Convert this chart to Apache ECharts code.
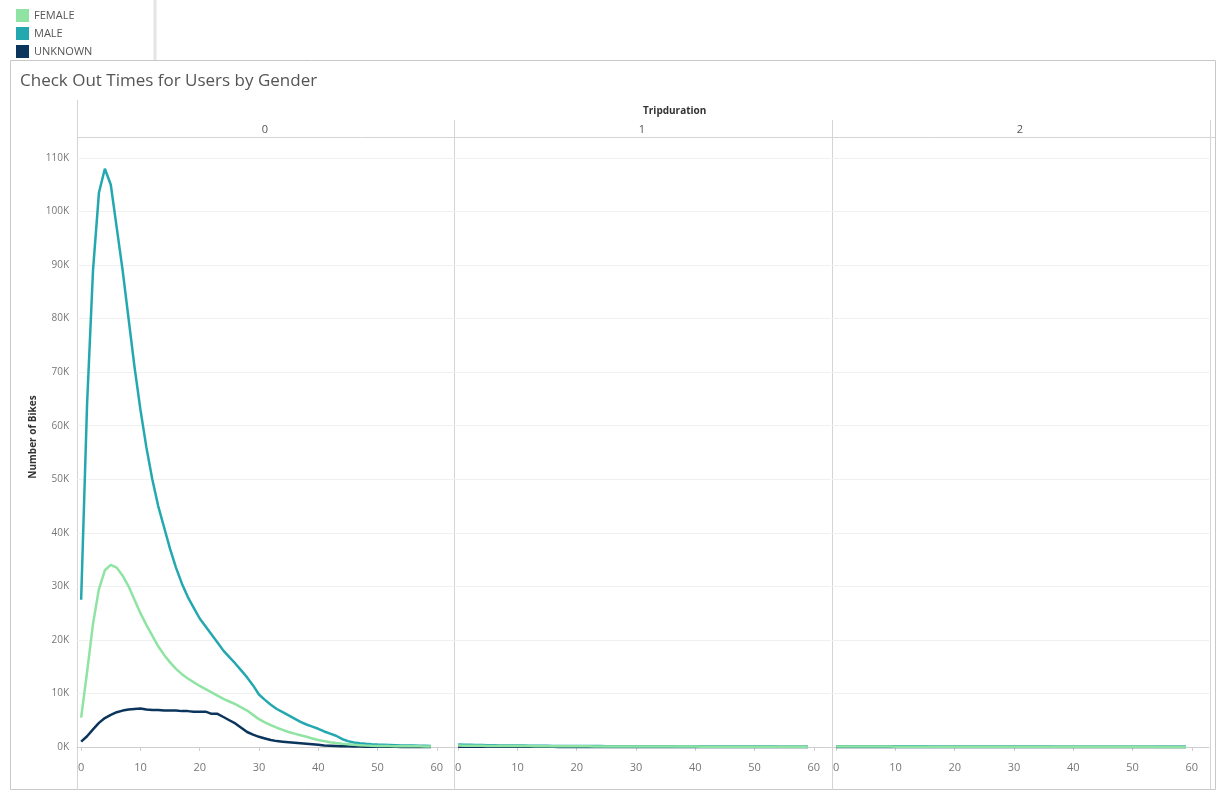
<!DOCTYPE html>
<html lang="en">
<head>
<meta charset="UTF-8">
<title>Check Out Times for Users by Gender</title>
<script src="https://cdn.jsdelivr.net/npm/echarts@6/dist/echarts.min.js"></script>
<style>html,body{margin:0;padding:0;background:#fff;}</style>
</head>
<body>
<div id="main" style="width:1221px;height:796px;"></div>
<script type="text/javascript">
var panels = ['0', '1', '2'];
var xTicks = [0, 10, 20, 30, 40, 50, 60];
var minutes = [];
for (var m = 0; m < 60; m++) minutes.push(m);

// panel 0 (values per minute)
var male0 = [27500,64000,89000,103500,108000,105000,97000,89000,80000,71000,
  63000,56000,50000,45000,41000,37000,33500,30500,28000,26000,
  24000,22500,21000,19500,18000,16800,15600,14300,13000,11500,
  9800,8800,7900,7100,6500,5900,5300,4700,4200,3800,
  3400,2900,2500,2100,1500,1100,850,700,600,520,
  460,420,380,340,300,280,260,240,220,200];
var female0 = [5500,14000,23000,29500,33000,34000,33500,32000,30000,27500,
  25000,22800,20800,18800,17200,15800,14600,13600,12800,12100,
  11400,10800,10200,9600,9000,8500,8000,7400,6800,6000,
  5200,4600,4100,3600,3200,2800,2500,2200,1900,1600,
  1300,1100,900,750,600,500,400,330,280,240,
  210,190,170,160,150,140,130,120,110,100];
var unknown0 = [1000,2000,3300,4500,5400,6000,6500,6800,7000,7100,
  7200,7000,6900,6900,6800,6800,6800,6700,6700,6600,
  6600,6600,6200,6200,5600,5000,4400,3600,2800,2300,
  1900,1600,1300,1100,1000,900,800,700,600,500,
  400,300,250,200,150,120,100,80,60,50,
  40,35,30,25,20,20,15,15,10,10];
// panel 1
var male1 = [450,420,400,380,360,340,320,300,290,280,270,260,250,240,230,220,210,200,195,190,
  185,180,175,170,165,160,155,150,145,140,135,130,128,125,122,120,118,115,112,110,
  108,105,102,100,98,95,92,90,88,85,82,80,78,75,72,70,68,65,62,60];
var female1 = [260,250,240,230,220,210,200,190,185,180,175,170,165,160,155,150,145,140,135,130,
  125,120,118,115,112,110,108,105,102,100,98,95,92,90,88,85,82,80,78,75,
  72,70,68,65,62,60,58,56,54,52,50,48,46,44,42,40,40,38,36,35];
var unknown1 = [40,38,36,35,34,33,32,31,30,30,29,28,27,26,25,25,24,23,22,21,
  20,20,19,18,18,17,16,16,15,15,14,14,13,13,12,12,11,11,10,10,
  10,9,9,9,8,8,8,7,7,7,6,6,6,5,5,5,5,4,4,4];
// panel 2
var male2 = [160,155,150,148,145,142,140,138,135,132,130,128,125,122,120,118,115,112,110,108,
  105,102,100,98,96,94,92,90,88,86,84,82,80,78,76,74,72,70,68,66,
  64,62,60,58,56,55,54,53,52,51,50,49,48,47,46,45,44,43,42,41];
var female2 = [90,88,86,84,82,80,78,76,74,72,70,68,66,64,62,60,58,56,55,54,
  53,52,51,50,49,48,47,46,45,44,43,42,41,40,39,38,37,36,35,34,
  33,32,31,30,30,29,28,28,27,26,26,25,24,24,23,22,22,21,20,20];
var unknown2 = [15,15,14,14,13,13,12,12,12,11,11,11,10,10,10,9,9,9,8,8,
  8,8,7,7,7,7,6,6,6,6,6,5,5,5,5,5,5,4,4,4,
  4,4,4,3,3,3,3,3,3,3,2,2,2,2,2,2,2,2,2,2];

var colors = { FEMALE: '#8fe3a3', MALE: '#24a8b0', UNKNOWN: '#0b355c' };
var panelData = [
  { FEMALE: female0, MALE: male0, UNKNOWN: unknown0 },
  { FEMALE: female1, MALE: male1, UNKNOWN: unknown1 },
  { FEMALE: female2, MALE: male2, UNKNOWN: unknown2 }
];
var gridLefts = [77, 454, 832];

var chart = echarts.init(document.getElementById('main'));

var grids = [], xAxes = [], yAxes = [], series = [];
panels.forEach(function (p, i) {
  grids.push({ left: gridLefts[i], width: 377, top: 158, height: 589 });
  xAxes.push({
    type: 'value', gridIndex: i, min: -0.7, max: 62.9, offset: 9,
    axisLine: { show: true, lineStyle: { color: '#cfcfcf' } },
    axisTick: { show: true, customValues: xTicks, length: 4, lineStyle: { color: '#cfcfcf' } },
    axisLabel: { customValues: xTicks, color: '#777', fontSize: 11, fontFamily: 'Open Sans', margin: 6 },
    splitLine: { show: false }
  });
  yAxes.push({
    type: 'value', gridIndex: i, min: 0, max: 110000, interval: 10000,
    axisLine: { show: false },
    axisTick: { show: false },
    axisLabel: {
      show: i === 0, color: '#777', fontSize: 10, fontFamily: 'Open Sans', margin: 8,
      formatter: function (v) { return (v / 1000) + 'K'; }
    },
    splitLine: { show: true, lineStyle: { color: '#f0f0f0' } }
  });
  ['UNKNOWN', 'MALE', 'FEMALE'].forEach(function (g) {
    series.push({
      name: g, type: 'line', xAxisIndex: i, yAxisIndex: i, symbol: 'none',
      lineStyle: { width: 2.5, color: colors[g] }, itemStyle: { color: colors[g] },
      clip: false,
      data: minutes.map(function (mm, k) { return [mm, panelData[i][g][k]]; })
    });
  });
});

var lineCol = '#d4d4d4';
var graphics = [
  { type: 'rect', shape: { x: 10.5, y: 60.5, width: 1205, height: 729 }, style: { fill: 'none', stroke: '#c8c8c8' } },
  { type: 'line', shape: { x1: 155, y1: 0, x2: 155, y2: 60 }, style: { stroke: '#e4e4e4', lineWidth: 3 } },
  { type: 'text', left: 20, top: 73, style: { text: 'Check Out Times for Users by Gender', fill: '#555', font: '17px "Open Sans"' } },
  { type: 'text', left: 643, top: 106, style: { text: 'Tripduration', fill: '#333', font: 'bold 10px "Open Sans"', align: 'center' } },
  { type: 'line', shape: { x1: 77, y1: 137.5, x2: 1215, y2: 137.5 }, style: { stroke: lineCol } },
  { type: 'line', shape: { x1: 77.5, y1: 100, x2: 77.5, y2: 790 }, style: { stroke: lineCol } },
  { type: 'line', shape: { x1: 454.5, y1: 120, x2: 454.5, y2: 790 }, style: { stroke: lineCol } },
  { type: 'line', shape: { x1: 832.5, y1: 120, x2: 832.5, y2: 790 }, style: { stroke: lineCol } },
  { type: 'line', shape: { x1: 1210.5, y1: 120, x2: 1210.5, y2: 790 }, style: { stroke: lineCol } },
  { type: 'text', x: 33, y: 437, rotation: Math.PI / 2, style: { text: 'Number of Bikes', fill: '#333', font: 'bold 10px "Open Sans"', align: 'center', verticalAlign: 'middle' } }
];
panels.forEach(function (p, i) {
  graphics.push({ type: 'text', x: gridLefts[i] + 188, y: 124, style: { text: p, fill: '#555', font: '11px "Open Sans"', align: 'center' } });
});
['FEMALE', 'MALE', 'UNKNOWN'].forEach(function (g, k) {
  graphics.push({ type: 'rect', shape: { x: 16, y: 9 + k * 18, width: 13, height: 13 }, style: { fill: colors[g] } });
  graphics.push({ type: 'text', x: 34, y: 10 + k * 18, style: { text: g, fill: '#555', font: '11px "Open Sans"' } });
});

chart.setOption({
  animation: false,
  grid: grids, xAxis: xAxes, yAxis: yAxes, series: series,
  graphic: graphics
});
</script>
</body>
</html>
